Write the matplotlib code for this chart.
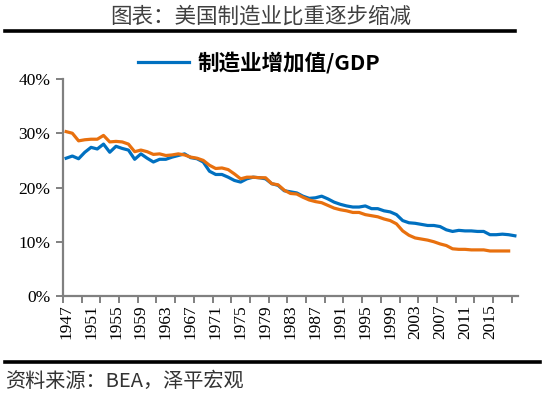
import numpy as np
import matplotlib
matplotlib.use('Agg')
import matplotlib.pyplot as plt
from matplotlib.lines import Line2D

plt.rcParams['font.family'] = ['Noto Sans CJK SC', 'DejaVu Sans']

# --- Dati (quota % del PIL) ---
years = list(range(1947, 2020))
mfg_va_gdp = [25.4, 25.8, 25.3, 26.5, 27.4, 27.1, 28.0, 26.5, 27.6, 27.2,
              26.9, 25.2, 26.2, 25.4, 24.7, 25.2, 25.2, 25.6, 25.9, 26.2,
              25.5, 25.3, 24.7, 23.0, 22.4, 22.4, 21.9, 21.3, 21.0, 21.6,
              21.9, 21.8, 21.6, 20.7, 20.4, 19.4, 19.2, 19.0, 18.4, 18.0,
              18.1, 18.4, 17.9, 17.3, 16.9, 16.6, 16.4, 16.4, 16.6, 16.1,
              16.1, 15.7, 15.5, 15.0, 13.9, 13.5, 13.4, 13.2, 13.0, 13.0,
              12.8, 12.2, 11.9, 12.1, 12.0, 12.0, 11.9, 11.9, 11.3, 11.3,
              11.4, 11.3, 11.1]
second_series = [30.3, 30.0, 28.6, 28.8, 28.9, 28.9, 29.6, 28.4, 28.5, 28.4,
                 28.0, 26.6, 26.9, 26.6, 26.1, 26.2, 25.9, 26.0, 26.2, 26.0,
                 25.6, 25.4, 25.0, 24.1, 23.5, 23.6, 23.3, 22.5, 21.6, 21.9,
                 21.9, 21.8, 21.8, 20.7, 20.5, 19.5, 18.9, 18.8, 18.2, 17.7,
                 17.4, 17.2, 16.7, 16.2, 15.9, 15.7, 15.4, 15.4, 15.0, 14.8,
                 14.6, 14.2, 13.9, 13.3, 12.0, 11.2, 10.7, 10.5, 10.3, 10.0,
                 9.6, 9.3, 8.7, 8.6, 8.6, 8.5, 8.5, 8.5, 8.3, 8.3,
                 8.3, 8.3]
yticks = [0, 10, 20, 30, 40]

title = '图表：美国制造业比重逐步缩减'
legend_label = '制造业增加值/GDP'
source = '资料来源：BEA，泽平宏观'

blue = '#0070C0'
orange = '#E8700E'
grey = '#808080'

W, H = 547, 395
fig = plt.figure(figsize=(W / 100, H / 100), dpi=100)
ax = fig.add_axes([63 / W, 1 - 296 / H, (518 - 63) / W, (296 - 79) / H])

idx = np.arange(len(years))
l_blue, = ax.plot(idx, mfg_va_gdp, color=blue, lw=2.3, solid_joinstyle='round')
ax.plot(idx[:len(second_series)], second_series, color=orange, lw=2.3,
        solid_joinstyle='round')

ax.set_xlim(-0.5, len(years) - 0.5)
ax.set_ylim(0, 40)

# --- Assi ---
for s in ['top', 'right']:
    ax.spines[s].set_visible(False)
for s in ['left', 'bottom']:
    ax.spines[s].set_color(grey)
    ax.spines[s].set_linewidth(1.6)

ax.set_yticks(yticks)
ax.set_yticklabels([f'{v}%' for v in yticks], family='Liberation Serif',
                   fontsize=12.5)
ax.tick_params(axis='y', length=5, width=1.4, color=grey, pad=4)

lab_pos = idx[::4][:18]
ax.set_xticks(lab_pos)
ax.set_xticklabels([str(years[i]) for i in lab_pos], rotation=90,
                   family='Liberation Serif', fontsize=12.5)
ax.tick_params(axis='x', length=0, pad=6)
ax.set_xticks(np.arange(-0.5, len(years), 3), minor=True)
ax.tick_params(axis='x', which='minor', length=5, width=1.4, color=grey)

# --- Legenda ---
fig.legend(handles=[l_blue], labels=[legend_label], loc='center',
           bbox_to_anchor=(259 / W, 1 - 63 / H), frameon=False,
           handlelength=2.4, handletextpad=0.4,
           prop={'family': 'Noto Sans CJK SC', 'weight': 'bold', 'size': 15.5})

# --- Titolo, righe, fonte ---
fig.text(261 / W, 1 - 17 / H, title, ha='center', va='center', fontsize=15.5,
         color='#404040', weight='light')
fig.add_artist(Line2D([5 / W, 515 / W], [1 - 31 / H] * 2, color='black',
                      lw=2.6))
fig.add_artist(Line2D([5 / W, 540 / W], [1 - 362 / H] * 2, color='black',
                      lw=2.6))
fig.text(5 / W, 1 - 381 / H, source, ha='left', va='center', fontsize=14.5,
         color='#333333', style='italic')

fig.savefig('out.png', dpi=100)
